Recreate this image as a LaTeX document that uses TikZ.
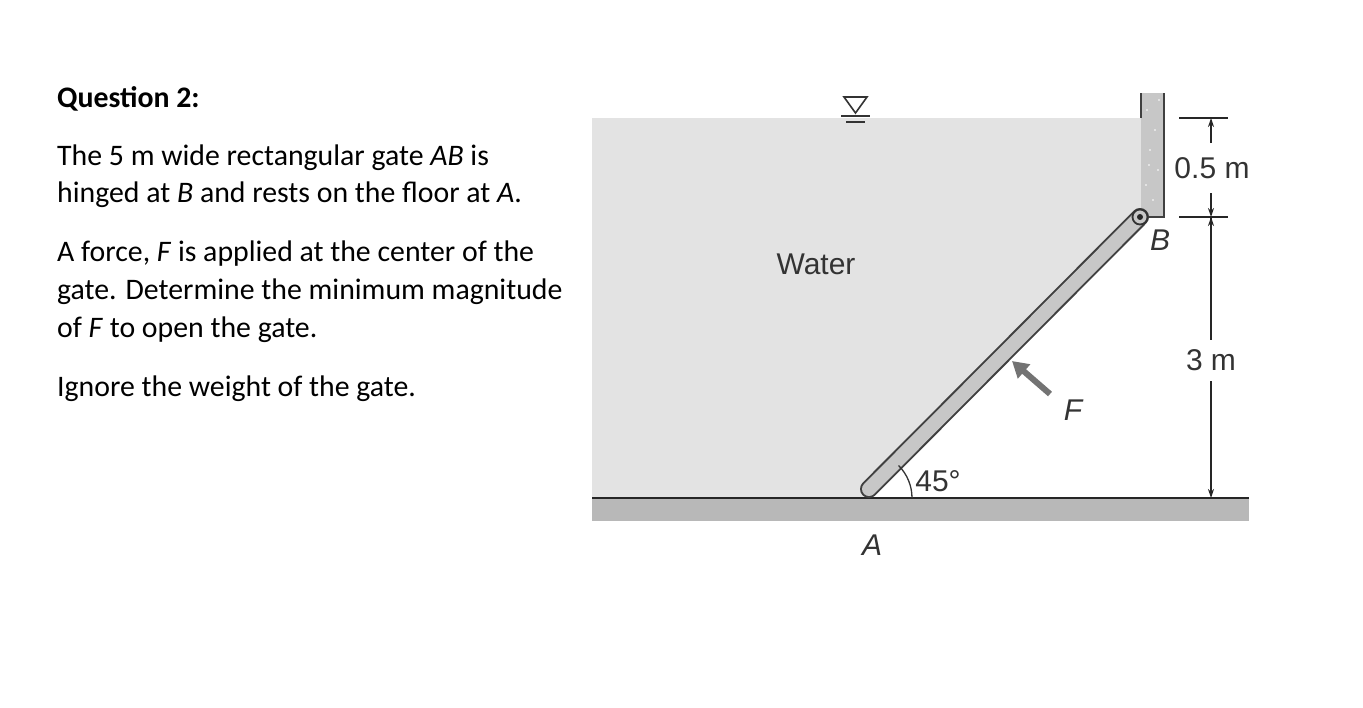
\documentclass[tikz,border=0pt]{standalone}
\usepackage{fontspec}
\setmainfont{Carlito}
\newfontfamily\arial{Liberation Sans}
\usetikzlibrary{arrows.meta,calc}
\definecolor{water}{gray}{0.89}
\definecolor{floorg}{gray}{0.72}
\definecolor{gatec}{gray}{0.78}
\definecolor{dimc}{gray}{0.15}
\tikzset{
  txt/.style={anchor=west,inner sep=0pt,font=\fontsize{29.8}{34}\selectfont},
  lab/.style={inner sep=0pt,font=\arial\fontsize{30}{36}\selectfont,text=black!80},
  ilab/.style={lab,font=\arial\itshape\fontsize{30}{36}\selectfont},
  dim/.style={draw=dimc,line width=1.2pt},
  dimarrow/.style={dim,-{Stealth[length=9pt,width=6pt]}}
}
\begin{document}
\begin{tikzpicture}[x=1pt,y=-1pt]
\useasboundingbox (0,0) rectangle (1363,707);
% text
\node[txt,font=\bfseries\fontsize{29.8}{34}\selectfont] (q) at (57,99) {Question 2:};
\node[txt] (t1) at (57,158) {The 5 m wide rectangular gate \textit{AB} is};
\node[txt] (t2) at (57,195) {hinged at \textit{B} and rests on the floor at \textit{A}.};
\node[txt] (t3) at (57,254) {A force, \textit{F} is applied at the center of the};
\node[txt] (t4) at (57,292) {gate. Determine the minimum magnitude};
\node[txt] (t5) at (57,330) {of \textit{F} to open the gate.};
\node[txt] (t6) at (57,389) {Ignore the weight of the gate.};
% coordinates
\coordinate (A) at (869,489);
\coordinate (B) at (1140,217);
\coordinate (O) at (866,498);
% water
\fill[water] (592,118) -- (1141,118) -- (1141,217) -- (B) -- (A) -- (868,498) -- (592,498) -- cycle;
% floor
\fill[floorg] (592,499) rectangle (1249,521);
\draw[line width=2pt,black!85] (592,498) -- (1249,498);
% wall
\fill[gatec] (1141,93) rectangle (1164,217);
\foreach \p in {(1147,110),(1155,130),(1150,150),(1158,170),(1146,185),(1153,200),(1159,100),(1149,165)}
  \fill[white,opacity=0.7] \p circle (1.2pt);
\draw[line width=2pt,black!75] (1141,93) -- (1141,118);
\draw[line width=2pt,black!75] (1164,93) -- (1164,217) -- (1141,217);
% gate
\draw[line width=18pt,black!75,line cap=round] (A) -- (B);
\draw[line width=14pt,gatec,line cap=round] (A) -- (B);
% hinge
\node[circle,draw=black!80,fill=gatec,line width=1.8pt,minimum size=15pt,inner sep=0pt] (hinge) at (B) {};
\fill[black!85] (B) circle (3pt);
% angle
\draw[line width=1.3pt,black!80] ($(O)+(46,0)$) arc[start angle=0,end angle=-45,radius=46];
\node[lab] (ang) at (938,481) {45°};
% force
\coordinate (Fs) at (1050,394);
\coordinate (Fe) at (1012,361);
\draw[line width=6pt,black!55,-{Triangle[length=16pt,width=18pt]}] (Fs) -- (Fe);
\node[ilab] (F) at (1073,410) {F};
% labels
\node[lab] (water) at (816,264) {Water};
\node[ilab] (Al) at (872,545) {A};
\node[ilab] (Bl) at (1160,240) {B};
% free surface symbol
\draw[line width=1.6pt,black!80] (844,97) -- (867,97) -- (855.5,113) -- cycle;
\draw[line width=1.6pt,black!80] (841,116) -- (870,116);
\draw[line width=1.6pt,black!80] (846,122) -- (865,122);
% dimensions
\coordinate (d0) at (1211,118);
\coordinate (d1) at (1211,217);
\coordinate (d2) at (1211,498);
\draw[dim] (1179,118) -- (1228,118);
\draw[dim] (1179,217) -- (1228,217);
\draw[dimarrow] (1211,143) -- (d0);
\draw[dimarrow] (1211,193) -- (d1);
\draw[dimarrow] (1211,240) -- (d1);
\node[lab] (h05) at (1212,168) {0.5 m};
\node[lab] (h3) at (1211,360) {3 m};
\draw[dim] (d1) -- (1211,340);
\draw[dimarrow] (1211,381) -- (d2);
\end{tikzpicture}
\end{document}
